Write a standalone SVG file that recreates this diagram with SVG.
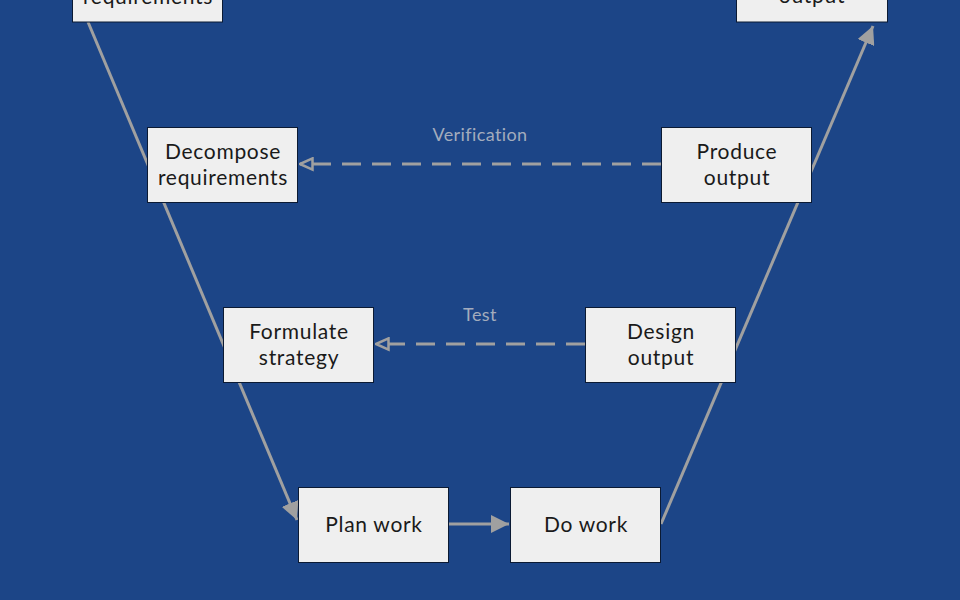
<svg xmlns="http://www.w3.org/2000/svg" width="960" height="600" viewBox="0 0 960 600">
<defs>
<marker id="fill" viewBox="0 0 10 10" refX="10" refY="5" markerWidth="6" markerHeight="6" markerUnits="strokeWidth" orient="auto">
<path d="M0,0 L10,5 L0,10 Z" fill="#a0a0a0"/>
</marker>
<marker id="open" viewBox="0 0 12 12" refX="11" refY="6" markerWidth="5" markerHeight="5" markerUnits="strokeWidth" orient="auto">
<path d="M1,1.5 L11,6 L1,10.5 Z" fill="#1c4587" stroke="#a0a0a0" stroke-width="2"/>
</marker>
<style>
.bg{fill:#1c4587}
.box{fill:#efefef;stroke:#0b1a33;stroke-width:1}
.t{font-family:Lato,"Open Sans","Liberation Sans",sans-serif;font-size:21px;letter-spacing:0.7px;fill:#1a1a1a;text-anchor:middle}
.lbl{font-family:Lato,"Open Sans","Liberation Sans",sans-serif;font-size:18px;letter-spacing:0.4px;fill:#a3acbd;text-anchor:middle}
.c{stroke:#a0a0a0;stroke-width:3;fill:none}
.d{stroke:#a0a0a0;stroke-width:3;fill:none;stroke-dasharray:19,11}
</style>
</defs>
<rect class="bg" x="0" y="0" width="960" height="600"/>
<g id="connectors">
<line class="c" x1="88" y1="22" x2="297" y2="520" marker-end="url(#fill)"/>
<line class="c" x1="661" y1="524" x2="873" y2="26" marker-end="url(#fill)"/>
<line class="c" x1="449" y1="524" x2="509" y2="524" marker-end="url(#fill)"/>
<line class="d" x1="661" y1="164" x2="300" y2="164" marker-end="url(#open)"/>
<line class="d" x1="585" y1="344" x2="376" y2="344" marker-end="url(#open)"/>
<text class="lbl" x="480" y="141">Verification</text>
<text class="lbl" x="480" y="321">Test</text>
</g>
<g id="n-top-left">
<rect class="box" x="72.500" y="-53" width="150" height="75"/>
<text class="t" x="148" y="4">requirements</text>
</g>
<g id="n-top-right">
<rect class="box" x="736.500" y="-53" width="151" height="75"/>
<text class="t" x="812" y="3">output</text>
</g>
<g id="n-decompose">
<rect class="box" x="147.500" y="127.500" width="150" height="75"/>
<text class="t" x="223" y="159">Decompose</text>
<text class="t" x="223" y="185">requirements</text>
</g>
<g id="n-formulate">
<rect class="box" x="223.500" y="307.500" width="150" height="75"/>
<text class="t" x="299" y="339">Formulate</text>
<text class="t" x="299" y="365">strategy</text>
</g>
<g id="n-plan">
<rect class="box" x="298.500" y="487.500" width="150" height="75"/>
<text class="t" x="374" y="532">Plan work</text>
</g>
<g id="n-do">
<rect class="box" x="510.500" y="487.500" width="150" height="75"/>
<text class="t" x="586" y="532">Do work</text>
</g>
<g id="n-design">
<rect class="box" x="585.500" y="307.500" width="150" height="75"/>
<text class="t" x="661" y="339">Design</text>
<text class="t" x="661" y="365">output</text>
</g>
<g id="n-produce">
<rect class="box" x="661.500" y="127.500" width="150" height="75"/>
<text class="t" x="737" y="159">Produce</text>
<text class="t" x="737" y="185">output</text>
</g>
</svg>
